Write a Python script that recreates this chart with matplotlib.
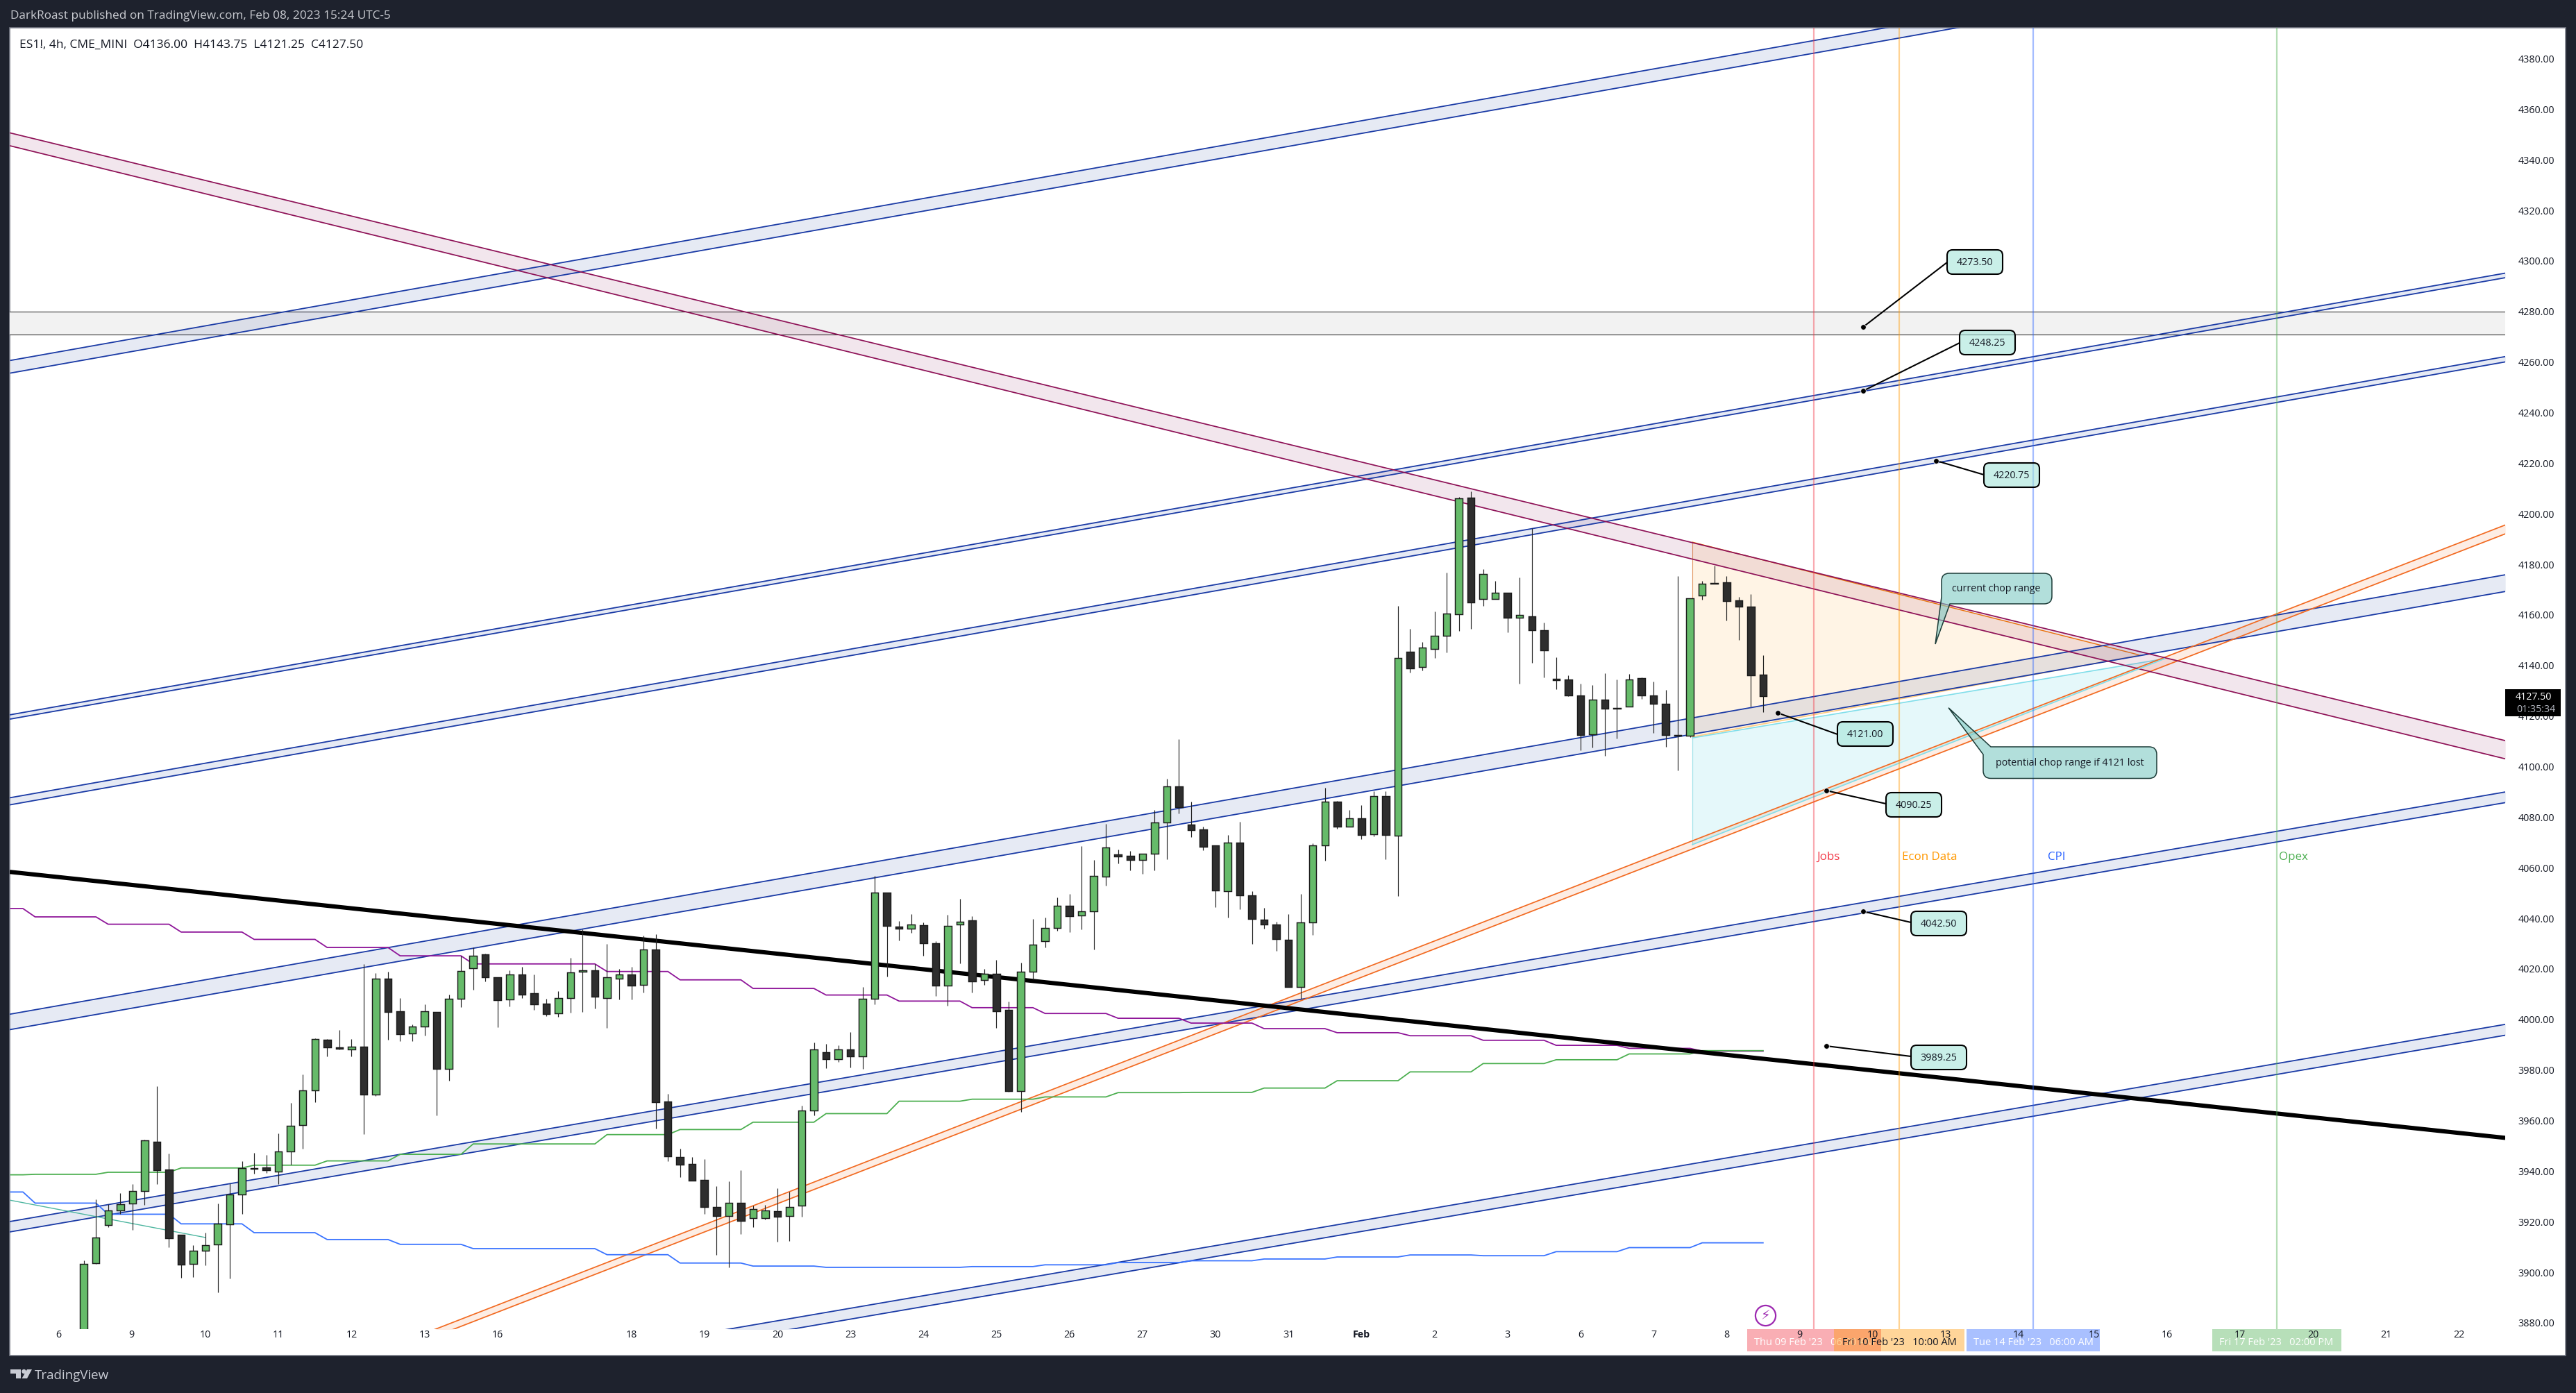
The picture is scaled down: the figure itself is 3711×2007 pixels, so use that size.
import numpy as np
import matplotlib
matplotlib.use('Agg')
import matplotlib.pyplot as plt
from matplotlib.patches import PathPatch, Polygon, Rectangle, Circle
from matplotlib.path import Path
from matplotlib.transforms import Affine2D

W, H = 3711, 2008
plt.rcParams.update({'font.family': ['Open Sans', 'DejaVu Sans'], 'font.size': 10.3})

# candles, one per 4h bar
opens = [3870, 3903.2, 3918.4, 3924.1, 3927, 3931.9, 3951.5, 3940.3, 3914.5, 3903,
         3908.4, 3910.7, 3918.8, 3930.4, 3941, 3941.3, 3939.7, 3947.4, 3958, 3971.6,
         3991.6, 3988.6, 3988, 3989.1, 3970.1, 4016, 4002.9, 3994.1, 3996.8, 4002.6,
         3980.1, 4007.8, 4019.9, 4025.4, 4016.3, 4007.7, 4017.4, 4010.1, 4006, 4002.1,
         4008.3, 4018.5, 4019.1, 4008.3, 4016, 4017.6, 4013.5, 4027.3, 3967.2, 3945.2,
         3942.5, 3936.2, 3925.7, 3921.9, 3927.1, 3921.3, 3921.1, 3924, 3921.9, 3926,
         3963.8, 3986.9, 3984, 3987.8, 3985, 4008, 4050, 4036.4, 4035.7, 4037,
         4029.8, 4013, 4037.2, 4038.9, 4015.2, 4017.9, 4003.4, 3971.3, 4018.7, 4030.8,
         4035.8, 4044.8, 4040.8, 4042.6, 4056.3, 4064.9, 4064.5, 4062.7, 4065.2, 4077.6,
         4091.8, 4076.8, 4074.9, 4068.6, 4050.6, 4069.8, 4048.7, 4039.1, 4037.4, 4031.3,
         4012.7, 4038, 4068.5, 4085.8, 4076, 4079.4, 4072.9, 4088, 4072.5, 4145.3,
         4139, 4146.3, 4151.6, 4160, 4206.1, 4165.9, 4166.1, 4168.4, 4158.7, 4159.3,
         4153.8, 4134.3, 4134.2, 4128, 4112.4, 4126.1, 4123, 4123.4, 4134.6, 4128,
         4124.7, 4112.3, 4112, 4167.3, 4172.2, 4172.5, 4165.5, 4163, 4136]
closes = [3903.1, 3913.6, 3924.3, 3926.7, 3931.8, 3951.8, 3940, 3913.3, 3902.7, 3908.4,
          3910.4, 3918.9, 3930.4, 3941, 3940.6, 3940, 3947.4, 3957.8, 3971.6, 3992.1,
          3988.6, 3988.2, 3989.1, 3970.1, 4016, 4002.6, 3994, 3996.8, 4002.9, 3980.1,
          4007.8, 4018.8, 4025, 4016.3, 4007.5, 4017.6, 4009.7, 4005.8, 4002, 4008.1,
          4018.3, 4019.1, 4008.7, 4016.3, 4017.4, 4013.2, 4027.3, 3966.9, 3945.7, 3942.4,
          3935.9, 3925.5, 3921.9, 3927.3, 3920.2, 3924.8, 3924.3, 3921.6, 3925.7, 3963.6,
          3987.8, 3984, 3987.8, 3985, 4008, 4050, 4036.8, 4035.7, 4037.2, 4030,
          4013, 4036.8, 4038.5, 4014.8, 4017.9, 4003, 3971.5, 4018.7, 4029.4, 4035.8,
          4044.8, 4040.7, 4042.4, 4056.4, 4067.7, 4064.3, 4062.7, 4065.2, 4077.6, 4091.8,
          4083.8, 4074.5, 4068.1, 4050.8, 4069.8, 4048.7, 4039.6, 4037.2, 4031.4, 4012.7,
          4038, 4068.5, 4085.8, 4075.9, 4079.4, 4072.8, 4088, 4072.8, 4142.6, 4138.6,
          4146.7, 4151.6, 4160.4, 4205.7, 4164.7, 4175.8, 4168.4, 4158.7, 4159.6, 4153.7,
          4145.8, 4134, 4128, 4112.3, 4126.1, 4122.7, 4122.7, 4134.3, 4127.9, 4124.6,
          4112.3, 4112, 4166.2, 4172.2, 4172, 4165.3, 4163, 4135.9, 4127.5]
highs = [3904.4, 3928.7, 3926.7, 3931, 3934.7, 3952.3, 3973.3, 3946.6, 3914.5, 3910.5,
         3915.5, 3927, 3935, 3943.6, 3947, 3946.2, 3954.6, 3966.8, 3978, 3992.4,
         3992.1, 3995.7, 3992, 4021.6, 4018.1, 4018.7, 4008.3, 3997.7, 4005.7, 4002.6,
         4009.6, 4024.9, 4028.2, 4025.8, 4016.3, 4019.2, 4020.5, 4017.4, 4008, 4011,
         4024.2, 4035.3, 4021.6, 4029.6, 4019.6, 4020.5, 4032.9, 4033.5, 3970.2, 3948.6,
         3945.3, 3944.5, 3933.8, 3935.6, 3940, 3926, 3926.5, 3932.9, 3931.5, 3965.6,
         3990.6, 3990, 3989.5, 3994.8, 4012.5, 4056.6, 4050, 4038.7, 4041.3, 4038.1,
         4030.7, 4041.2, 4047.4, 4040.6, 4019.8, 4023.3, 4006.8, 4022.2, 4039.5, 4040,
         4048, 4049.4, 4068.2, 4062.8, 4077.1, 4066.9, 4066.4, 4065.4, 4082.5, 4095,
         4110.5, 4085.9, 4076, 4068.6, 4072.6, 4077.9, 4050.4, 4044, 4038.4, 4041.3,
         4049.5, 4069.4, 4091.3, 4086.1, 4082.5, 4084.4, 4089.9, 4089.9, 4163.3, 4154.1,
         4149, 4161.2, 4176.5, 4206.3, 4208.5, 4177.8, 4173.1, 4168.4, 4174.5, 4194.1,
         4156.6, 4142.9, 4135.8, 4132.5, 4132.1, 4136.6, 4134.2, 4136.3, 4134.9, 4133.4,
         4130, 4175, 4166.2, 4173.3, 4179.2, 4175, 4166.8, 4167.9, 4143.75]
lows = [3865, 3903, 3917.5, 3922.7, 3916.5, 3926.3, 3934.7, 3909.7, 3897.7, 3897.9,
        3902.5, 3891.7, 3897.4, 3922.9, 3938.8, 3939, 3934.7, 3942.3, 3948.6, 3966.9,
        3985.1, 3988, 3985.1, 3954.3, 3969.6, 3991.7, 3991.1, 3991.3, 3993.5, 3961.9,
        3975.6, 4004.6, 4011.6, 4014.7, 3996.6, 4005, 4008.3, 4003.4, 4001, 4000.8,
        4002.4, 4002.8, 4004.1, 3996.4, 4007.7, 4007.7, 4010.5, 3956.6, 3943.8, 3937.4,
        3935.9, 3922.9, 3906.7, 3901.8, 3914.8, 3917.7, 3920.7, 3911.9, 3912.2, 3921.8,
        3961.8, 3980.6, 3982.9, 3980.8, 3980.3, 4005.6, 4016.8, 4030.9, 4033.9, 4025,
        4009.1, 4005.3, 4021.9, 4010.5, 4013.4, 3996.3, 3971, 3963.3, 4015.7, 4028.2,
        4034.7, 4034.3, 4035.5, 4027.5, 4052.6, 4061.4, 4058.6, 4057.4, 4058.6, 4063.1,
        4081.3, 4071.9, 4066.6, 4044.1, 4040, 4043.2, 4029.6, 4035.7, 4026.9, 4012.7,
        4008, 4033.2, 4062.6, 4075.3, 4076, 4071.1, 4072.2, 4063.1, 4048.6, 4137,
        4137.8, 4142.8, 4145, 4153.5, 4154.2, 4163.3, 4165.9, 4152.8, 4132.6, 4140.8,
        4135.1, 4130.3, 4127.5, 4106.3, 4107.4, 4104.1, 4110.8, 4123.4, 4126.6, 4113.1,
        4107.6, 4098.3, 4111.5, 4165.7, 4172, 4157.6, 4149.9, 4123.4, 4121.25]

# stepped indicator lines: each level holds from step_start to step_end
step_start = [-6, -4, 2, 8, 14, 20, 26, 32, 43, 49, 55, 61, 67, 73, 79, 85, 91, 97, 103, 109, 115, 121, 127, 133]
step_end = [-5, 1, 7, 13, 19, 25, 31, 42, 48, 54, 60, 66, 72, 78, 84, 90, 96, 102, 108, 114, 120, 126, 132, 138]
purple_levels = [4043.6, 4040.3, 4037.4, 4034.3, 4031.4, 4028.2, 4024.9, 4021.7, 4018.7, 4015.4, 4012, 4009.4,
                 4007, 4004.4, 4002.1, 4000.2, 3998.3, 3996.1, 3994.5, 3993.3, 3991.5, 3989.5, 3988.3, 3987.2]
green_levels = [3938.3, 3938.5, 3939.3, 3941, 3942.1, 3943.8, 3946.4, 3950.5, 3954.2, 3956.2, 3959.1, 3962.5,
                3967.4, 3968.2, 3969.1, 3970.8, 3970.9, 3972.6, 3975.5, 3979, 3982.3, 3983.8, 3986.1, 3987.4]
blue_levels = [3931.5, 3927.1, 3922.7, 3918.9, 3915.4, 3912.7, 3910.8, 3909.1, 3906.7, 3903.4, 3902.2, 3901.7,
               3901.7, 3902, 3902.7, 3903.6, 3904.3, 3905, 3905.8, 3906.6, 3906.3, 3907.9, 3909.5, 3911.4]

# parallel channels: x ends, upper line ends, lower line ends
ch_top = ([-6, 199], [4260.4, 4435.4], [4255.4, 4430.4])
ch_2nd = ([-6.09, 199], [4120.2, 4294.9], [4118.5, 4293.1])
ch_3rd = ([-6.09, 199], [4087.4, 4261.9], [4084.6, 4259.8])
ch_mid = ([-6.09, 199], [4001.8, 4175.6], [3995.7, 4169])
ch_low = ([-6.09, 199], [3919.8, 4089.7], [3915.7, 4085.5])
ch_bot = ([0, 199], [3833.5, 3997.8], [3829.2, 3993.5])
ch_orange = ([28.5, 199], [3876.5, 4195.3], [3873.7, 4191.8])
ch_pink = ([-6.09, 199], [4350.4, 4110], [4345.3, 4102.8])
black_x, black_y = [-6.09, 199], [4058.1, 3952.9]
teal_x, teal_y = [-6, 10], [3928.2, 3913.5]
zone_lo, zone_hi = 4270.7, 4279.8

tri_x = [132.2, 132.2, 169]
tri_orange_y = [4188.5, 4111.5, 4143.8]
tri2_x = [132.2, 132.2, 171]
tri_blue_y = [4111.1, 4068.9, 4142.4]

# events
event_x = [142.2, 149.2, 160.2, 180.2]
event_names = ['Jobs', 'Econ Data', 'CPI', 'Opex']
event_name_x = [142.4, 149.4, 161.4, 180.4]
event_colors = ['#f23645', '#ff9800', '#2962ff', '#4caf50']
event_dates = ["Thu 09 Feb '23   06:30 AM", "Fri 10 Feb '23   10:00 AM", "Tue 14 Feb '23   06:00 AM", "Fri 17 Feb '23   02:00 PM"]
event_halfw = [5.53, 5.37, 5.48, 5.3]
event_text = ['white', '#131722', 'white', 'white']

# time scale
tick_x = [-2.1, 3.9, 10, 16, 22, 28, 34, 45, 51, 57, 63, 69, 75, 81, 87, 93, 99, 105, 111, 117, 123, 129, 135, 141, 147, 153, 159, 165.2, 171.2, 177.2, 183.2, 189.2, 195.2]
tick_lab = ['6', '9', '10', '11', '12', '13', '16', '18', '19', '20', '23', '24', '25', '26', '27', '30', '31', 'Feb', '2', '3', '6', '7', '8', '9', '10', '13', '14', '15', '16', '17', '20', '21', '22']
price_ticks = list(range(3880, 4381, 20))

# callouts: anchor bar, anchor price, box left/top in px, link end in px
call_x = [146.2, 146.2, 152.2, 139.2, 143.2, 146.2, 143.2]
call_p = [4273.5, 4248.25, 4220.75, 4121, 4090.25, 4042.5, 3989.25]
call_box = [(2805, 361), (2823, 477), (2858, 668), (2647, 1041), (2717, 1143), (2753, 1314), (2753, 1507)]
call_end = [(2805, 379), (2823, 495), (2858, 685), (2647, 1059), (2717, 1159), (2753, 1330), (2753, 1523)]

BG = '#1e222d'
fig = plt.figure(figsize=(W / 100, H / 100), dpi=100, facecolor=BG)
PX = Affine2D().scale(1, -1).translate(0, H)  # pixels, y down


def fx(x):
    return x / W


def fy(y):
    return 1 - y / H


# white pane with thin border
fig.add_artist(Rectangle((fx(14), fy(1954)), (3696 - 14) / W, (1954 - 41) / H, transform=fig.transFigure,
                         fc='white', ec='#787b86', lw=1.2, zorder=0))

x0 = (14 - 120.7) / 17.53
x1 = (3609 - 120.7) / 17.53
ax = fig.add_axes([fx(14), fy(1916), (3609 - 14) / W, (1916 - 41) / H], facecolor='none')
ax.set_xlim(x0, x1)
ax.set_ylim(3880 + (1906 - 1916) / 3.643, 3880 + (1906 - 41) / 3.643)
for s in ax.spines.values():
    s.set_visible(False)
ax.tick_params(bottom=False, labelbottom=False, left=False, labelleft=False, right=False, labelright=True,
               labelsize=10.3, pad=10, labelcolor='#131722')
ax.set_yticks(price_ticks)
ax.set_yticklabels([f'{p:.2f}' for p in price_ticks])
ax.set_zorder(3)

# zone
ax.axhspan(zone_lo, zone_hi, fc='#f2f2f2', ec='none', zorder=1)
ax.axhline(zone_lo, color='#333333', lw=0.8, zorder=1)
ax.axhline(zone_hi, color='#333333', lw=0.8, zorder=1)

# triangles
ax.add_patch(Polygon(np.column_stack([tri_x, tri_orange_y]), fc=(1, 0.596, 0, 0.1), ec='none', zorder=1))
ax.plot([tri_x[0], tri_x[2]], [tri_orange_y[0], tri_orange_y[2]], color='#f57c00', lw=1, zorder=1.5)
ax.plot([tri_x[0], tri_x[1]], tri_orange_y[:2], color='#e39a66', lw=0.8, zorder=1.5)
ax.plot([tri_x[1], tri_x[2]], tri_orange_y[1:], color='#ffcc80', lw=1.2, zorder=1.5)
ax.add_patch(Polygon(np.column_stack([tri2_x, tri_blue_y]), fc=(0, 0.737, 0.831, 0.1), ec='none', zorder=1))
ax.plot([tri2_x[0], tri2_x[2]], [tri_blue_y[0], tri_blue_y[2]], color='#80deea', lw=1.2, zorder=1.5)
ax.plot([tri2_x[0], tri2_x[1]], tri_blue_y[:2], color='#a5e3ea', lw=0.9, zorder=1.5)
ax.plot([tri2_x[1], tri2_x[2]], tri_blue_y[1:], color='#80deea', lw=1.2, zorder=2.2)

# channels
blue_edge, blue_fill = '#1a3aa5', (0.129, 0.25, 0.627, 0.11)
for cx, up, dn in [ch_top, ch_2nd, ch_3rd, ch_mid, ch_low, ch_bot]:
    ax.fill_between(cx, up, dn, color=blue_fill, lw=0, zorder=1.6)
    ax.plot(cx, up, color=blue_edge, lw=1.3, zorder=2)
    ax.plot(cx, dn, color=blue_edge, lw=1.3, zorder=2)
cx, up, dn = ch_orange
ax.fill_between(cx, up, dn, color=(0.96, 0.42, 0.13, 0.12), lw=0, zorder=1.6)
ax.plot(cx, up, color='#f26a21', lw=1.25, zorder=2)
ax.plot(cx, dn, color='#f26a21', lw=1.25, zorder=2)
cx, up, dn = ch_pink
ax.fill_between(cx, up, dn, color=(0.533, 0.055, 0.31, 0.1), lw=0, zorder=1.6)
ax.plot(cx, up, color='#8e1257', lw=1.25, zorder=2)
ax.plot(cx, dn, color='#8e1257', lw=1.25, zorder=2)

# indicators
step_x = np.column_stack([step_start, step_end]).ravel()
for levels, col in [(purple_levels, '#8e1599'), (green_levels, '#4caf50'), (blue_levels, '#3a74ff')]:
    ax.plot(step_x, np.repeat(levels, 2), color=col, lw=1.3, zorder=2.3)
ax.plot(teal_x, teal_y, color='#4db6a0', lw=1, zorder=2.3)

ax.plot(black_x, black_y, color='black', lw=4.4, zorder=2.4, solid_capstyle='butt')

# event lines
for ex, nx, name, col in zip(event_x, event_name_x, event_names, event_colors):
    ax.axvline(ex, color=col, alpha=0.42, lw=1.6, zorder=2.6)
    ax.text(nx, 4064.2, name, color=col, fontsize=12.2, ha='left', va='center', zorder=2.6)

# candles
idx = np.arange(len(opens))
o, c, h, l = map(np.array, (opens, closes, highs, lows))
up = c >= o
colors = np.where(up, '#66bb6a', '#2e2e2e')
ax.vlines(idx, l, h, color='#222222', lw=0.85, zorder=3)
ax.bar(idx, np.maximum(np.abs(c - o), 0.35), bottom=np.minimum(o, c), width=0.6, color=colors,
       edgecolor='#1a1a1a', lw=1.05, zorder=3.1)


def rounded(pts, r):
    # pts: (x, y, rounded?) in px
    verts, codes = [], []
    n = len(pts)
    for i, (x, y, rd) in enumerate(pts):
        p = np.array([x, y], float)
        if rd:
            a = p + (np.array(pts[i - 1][:2]) - p) / np.hypot(*(np.array(pts[i - 1][:2]) - p)) * r
            b = p + (np.array(pts[(i + 1) % n][:2]) - p) / np.hypot(*(np.array(pts[(i + 1) % n][:2]) - p)) * r
            verts += [a, p, b]
            codes += [Path.LINETO, Path.CURVE3, Path.CURVE3]
        else:
            verts.append(p)
            codes.append(Path.LINETO)
    codes[0] = Path.MOVETO
    verts.append(verts[0])
    codes.append(Path.CLOSEPOLY)
    return Path(verts, codes)


def rect_pts(x, y, w, h):
    return [(x, y, True), (x + w, y, True), (x + w, y + h, True), (x, y + h, True)]


# price callouts
for cxx, cp, (bx, by), end in zip(call_x, call_p, call_box, call_end):
    ax.annotate('', xy=(cxx, cp), xytext=end, textcoords=PX, zorder=4,
                arrowprops=dict(arrowstyle='-', color='black', lw=1.5, shrinkA=0, shrinkB=0))
    ax.plot([cxx], [cp], 'o', ms=5.6, mfc='black', mec=(1, 1, 1, 0.8), mew=0.7, zorder=4.1)
    ax.add_patch(PathPatch(rounded(rect_pts(bx, by, 80, 35), 8), fc=(0.647, 0.898, 0.855, 0.6), ec='black',
                           lw=1.5, transform=PX, clip_on=False, zorder=4.2))
    ax.text(bx + 40, by + 18, f'{cp:.2f}', transform=PX, ha='center', va='center', fontsize=10.3, color='#131722', zorder=4.3)

# text balloons
balloon_fill = (0.5, 0.796, 0.769, 0.6)
chop1 = [(2797, 827, True), (2956, 827, True), (2956, 871, True), (2809, 871, False), (2788, 929, False), (2797, 861, False)]
ax.add_patch(PathPatch(rounded(chop1, 11), fc=balloon_fill, ec='#1c3c38', lw=1.1, transform=PX, clip_on=False, zorder=4.2))
ax.text(2876, 849, 'current chop range', transform=PX, ha='center', va='center', fontsize=10.3, color='#131722', zorder=4.3)
chop2 = [(2868, 1077, False), (3107, 1077, True), (3107, 1122.5, True), (2857, 1122.5, True), (2857, 1088, False), (2807, 1020.7, False)]
ax.add_patch(PathPatch(rounded(chop2, 11), fc=balloon_fill, ec='#1c3c38', lw=1.1, transform=PX, clip_on=False, zorder=4.2))
ax.text(2982, 1100, 'potential chop range if 4121 lost', transform=PX, ha='center', va='center', fontsize=10.3, color='#131722', zorder=4.3)

# last price tag
ax.add_patch(Rectangle((3609, 994), 80, 38.7, fc='black', ec='none', transform=PX, clip_on=False, zorder=5))
ax.text(3650, 1005, f'{closes[-1]:.2f}', transform=PX, ha='center', va='center', color='white', fontsize=10.3, zorder=5.1)
ax.text(3653, 1023, '01:35:34', transform=PX, ha='center', va='center', color='#b2b5be', fontsize=10.3, zorder=5.1)

# time scale
ax_t = fig.add_axes([fx(14), fy(1954), (3609 - 14) / W, 38 / H], sharex=ax, facecolor='none')
ax_t.set_ylim(38, 0)
ax_t.set_yticks([])
for s in ax_t.spines.values():
    s.set_visible(False)
ax_t.set_xticks(tick_x)
ax_t.set_xticklabels(tick_lab)
ax_t.tick_params(axis='x', length=0, pad=-27, labelsize=10.3, labelcolor='#131722', direction='in')
for t in ax_t.get_xticklabels():
    if t.get_text() == 'Feb':
        t.set_fontweight('bold')
for i, (ex, hw, col, txt, tcol) in enumerate(zip(event_x, event_halfw, event_colors, event_dates, event_text)):
    ax_t.add_patch(Rectangle((ex - hw, 0), 2 * hw, 32, fc=col, alpha=0.4, ec='none', zorder=1 + i * 0.1))
    ax_t.text(ex, 19, txt, color=tcol, ha='center', va='center', fontsize=10.5, zorder=1.05 + i * 0.1)

# session break marker
ax.plot([138.2], [3882.7], 'o', ms=21, mfc='white', mec='#9c27b0', mew=1.6, clip_on=False, zorder=4)
ax.text(138.2, 3882.7, '\u26a1', color='#9c27b0', ha='center', va='center', fontsize=14, family='DejaVu Sans', zorder=4.1)

# header and legend
fig.text(fx(15), fy(23), 'DarkRoast published on TradingView.com, Feb 08, 2023 15:24 UTC-5', color='#c8cad0',
         fontsize=12.4, ha='left', va='center')
fig.text(fx(28), fy(65), 'ES1!, 4h, CME_MINI  O4136.00  H4143.75  L4121.25  C4127.50', color='#131722',
         fontsize=12.5, ha='left', va='center')

# footer logo
logo = '#c9ccd4'
fig.add_artist(Polygon([(15, 1974), (30, 1974), (30, 1987), (23, 1987), (23, 1980), (15, 1980)], fc=logo, ec='none', transform=PX))
fig.add_artist(Circle((34.5, 1977), 3.2, fc=logo, ec='none', transform=PX))
fig.add_artist(Polygon([(39, 1974), (46, 1974), (39, 1987), (31.5, 1987)], fc=logo, ec='none', transform=PX))
fig.text(fx(50), fy(1982), 'TradingView', color=logo, fontsize=13.5, ha='left', va='center')

fig.savefig('out.png', dpi=100, facecolor=BG)
